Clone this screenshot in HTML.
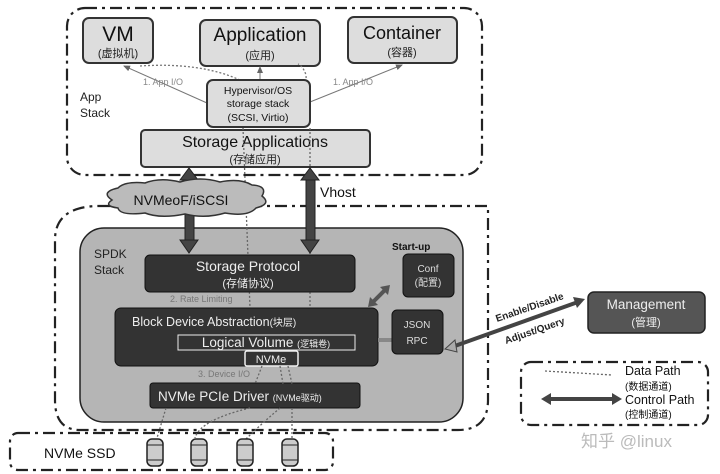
<!DOCTYPE html>
<html><head><meta charset="utf-8"><style>
html,body{margin:0;padding:0;background:#fff}
svg{display:block}
text{font-family:"Liberation Sans","Noto Sans CJK SC",sans-serif}
</style></head><body>
<svg width="720" height="474" viewBox="0 0 720 474" xmlns="http://www.w3.org/2000/svg">
<defs>
<marker id="ah" markerWidth="8" markerHeight="8" refX="6" refY="4" orient="auto"><path d="M0,1 L7,4 L0,7z" fill="#666"/></marker>
</defs>
<rect width="720" height="474" fill="#fff"/>
<rect x="67" y="8" width="415" height="167" rx="18" fill="none" stroke="#222" stroke-width="2.2" stroke-dasharray="12,5,3,5"/>
<path d="M100,206 L488,206 L488,400 Q488,430 458,430 L80,430 Q55,430 55,400 L55,240 Q55,206 100,206" fill="none" stroke="#222" stroke-width="2.2" stroke-dasharray="12,5,3,5"/>
<rect x="10" y="433" width="323" height="37" rx="8" fill="none" stroke="#222" stroke-width="2.2" stroke-dasharray="12,5,3,5"/>
<rect x="521" y="362" width="187" height="63" rx="10" fill="none" stroke="#222" stroke-width="2.2" stroke-dasharray="12,5,3,5"/>

<rect x="83" y="18" width="70" height="45" rx="6" fill="#ddd" stroke="#333" stroke-width="2"/>
<text x="118" y="41" font-size="21" text-anchor="middle" fill="#111">VM</text>
<text x="118" y="57" font-size="11" text-anchor="middle" fill="#222">(虚拟机)</text>
<rect x="200" y="20" width="120" height="46" rx="6" fill="#ddd" stroke="#333" stroke-width="2"/>
<text x="260" y="41" font-size="19" text-anchor="middle" fill="#111">Application</text>
<text x="260" y="59" font-size="11" text-anchor="middle" fill="#222">(应用)</text>
<rect x="348" y="17" width="109" height="46" rx="6" fill="#ddd" stroke="#333" stroke-width="2"/>
<text x="402" y="39" font-size="18" text-anchor="middle" fill="#111">Container</text>
<text x="402" y="56" font-size="11" text-anchor="middle" fill="#222">(容器)</text>

<text x="80" y="101" font-size="12" fill="#222">App</text>
<text x="80" y="117" font-size="12" fill="#222">Stack</text>

<line x1="207" y1="103" x2="124" y2="66" stroke="#777" stroke-width="1" marker-end="url(#ah)"/>
<line x1="260" y1="80" x2="260" y2="67" stroke="#777" stroke-width="1" marker-end="url(#ah)"/>
<line x1="310" y1="102" x2="402" y2="65" stroke="#777" stroke-width="1" marker-end="url(#ah)"/>
<text x="143" y="85" font-size="9" fill="#888">1. App I/O</text>
<text x="333" y="85" font-size="9" fill="#888">1. App I/O</text>
<path d="M240,80 Q200,62 140,66" fill="none" stroke="#777" stroke-width="1.3" stroke-dasharray="2,2"/>
<path d="M308,122 L306,75 Q303,66 298,64" fill="none" stroke="#777" stroke-width="1.3" stroke-dasharray="2,2"/>

<rect x="207" y="80" width="103" height="47" rx="6" fill="#ddd" stroke="#333" stroke-width="2"/>
<text x="258" y="94" font-size="10.5" text-anchor="middle" fill="#111">Hypervisor/OS</text>
<text x="258" y="107" font-size="10.5" text-anchor="middle" fill="#111">storage stack</text>
<text x="258" y="121" font-size="10.5" text-anchor="middle" fill="#111">(SCSI, Virtio)</text>

<rect x="141" y="130" width="229" height="37" rx="4" fill="#ddd" stroke="#333" stroke-width="2"/>
<text x="255" y="147" font-size="16" text-anchor="middle" fill="#111">Storage Applications</text>
<text x="255" y="163" font-size="11" text-anchor="middle" fill="#222">(存储应用)</text>

<rect x="80" y="228" width="383" height="194" rx="24" fill="#b5b5b5" stroke="#222" stroke-width="1.5"/>
<text x="94" y="258" font-size="12" fill="#222">SPDK</text>
<text x="94" y="274" font-size="12" fill="#222">Stack</text>

<path d="M243,128 L250,308" fill="none" stroke="#666" stroke-width="1.3" stroke-dasharray="2,2"/>
<path d="M310,128 L310,308" fill="none" stroke="#666" stroke-width="1.3" stroke-dasharray="2,2"/>

<g fill="#444" stroke="#222" stroke-width="1">
<rect x="185" y="178" width="9" height="62"/>
<path d="M180,180 L189,168 L198,180z"/>
<path d="M180,240 L189,253 L198,240z"/>
<rect x="306" y="178" width="9" height="62"/>
<path d="M301,180 L310,168 L319,180z"/>
<path d="M301,240 L310,253 L319,240z"/>
</g>
<text x="320" y="197" font-size="14" fill="#111">Vhost</text>

<path d="M112,200 Q100,192 118,188 Q125,181 145,183 Q160,177 180,182 Q200,176 220,182 Q240,178 252,185 Q268,186 262,196 Q272,204 256,208 Q248,217 225,213 Q205,219 185,214 Q160,219 145,213 Q120,216 118,208 Q103,206 112,200z" fill="#bbb" stroke="#333" stroke-width="1.5"/>
<text x="181" y="205" font-size="14" text-anchor="middle" fill="#111">NVMeoF/iSCSI</text>

<rect x="145" y="255" width="210" height="37" rx="5" fill="#333" stroke="#111"/>
<text x="248" y="271" font-size="14" text-anchor="middle" fill="#eee">Storage Protocol</text>
<text x="248" y="287" font-size="11" text-anchor="middle" fill="#eee">(存储协议)</text>
<text x="170" y="302" font-size="9" fill="#777">2. Rate Limiting</text>

<text x="392" y="250" font-size="10" font-weight="bold" fill="#111">Start-up</text>
<rect x="403" y="254" width="51" height="43" rx="5" fill="#333" stroke="#111"/>
<text x="428" y="272" font-size="10" text-anchor="middle" fill="#ddd">Conf</text>
<text x="428" y="286" font-size="10" text-anchor="middle" fill="#ddd">(配置)</text>
<path d="M372,303 L386,289" stroke="#555" stroke-width="4"/>
<path d="M368,307 L370,297 L378,305z M390,285 L380,287 L388,295z" fill="#555"/>

<rect x="115" y="308" width="263" height="58" rx="6" fill="#333" stroke="#111"/>
<text x="132" y="326" font-size="12.5" fill="#eee">Block Device Abstraction<tspan font-size="10">(块层)</tspan></text>
<rect x="178" y="335" width="177" height="15" fill="none" stroke="#eee" stroke-width="1"/>
<text x="266" y="347" font-size="13.5" text-anchor="middle" fill="#eee">Logical Volume <tspan font-size="9">(逻辑卷)</tspan></text>
<rect x="245" y="351" width="53" height="15" rx="2" fill="#333" stroke="#eee" stroke-width="1.5"/>
<text x="271" y="363" font-size="11" text-anchor="middle" fill="#eee">NVMe</text>
<text x="198" y="377" font-size="9" fill="#777">3. Device I/O</text>
<path d="M378,340 L392,340" stroke="#888" stroke-width="4"/>

<rect x="392" y="310" width="51" height="44" rx="5" fill="#333" stroke="#111"/>
<text x="417" y="328" font-size="10" text-anchor="middle" fill="#ddd">JSON</text>
<text x="417" y="344" font-size="10" text-anchor="middle" fill="#ddd">RPC</text>

<rect x="150" y="383" width="210" height="25" rx="3" fill="#333" stroke="#111"/>
<text x="158" y="401" font-size="13.5" fill="#eee">NVMe PCIe Driver <tspan font-size="9">(NVMe驱动)</tspan></text>

<g fill="none" stroke="#666" stroke-width="1.3" stroke-dasharray="2,2">
<path d="M262,366 L255,384"/><path d="M280,366 L283,384"/><path d="M288,366 L292,384"/>
<path d="M166,408 L157,438"/><path d="M250,408 Q200,420 195,438"/><path d="M280,408 Q260,425 245,440"/><path d="M292,408 L292,438"/>
</g>
<g fill="#ccc" stroke="#222" stroke-width="1.5">
<rect x="147" y="439" width="16" height="27" rx="5"/>
<rect x="191" y="439" width="16" height="27" rx="5"/>
<rect x="237" y="439" width="16" height="27" rx="5"/>
<rect x="282" y="439" width="16" height="27" rx="5"/>
</g>
<g stroke="#222" stroke-width="1"><line x1="147" y1="445" x2="163" y2="445"/><line x1="191" y1="445" x2="207" y2="445"/><line x1="237" y1="445" x2="253" y2="445"/><line x1="282" y1="445" x2="298" y2="445"/>
<line x1="147" y1="460" x2="163" y2="460"/><line x1="191" y1="460" x2="207" y2="460"/><line x1="237" y1="460" x2="253" y2="460"/><line x1="282" y1="460" x2="298" y2="460"/></g>
<text x="44" y="458" font-size="14" fill="#111">NVMe SSD</text>

<line x1="452" y1="347" x2="578" y2="302" stroke="#444" stroke-width="4"/>
<path d="M445,349 L455,340 L457,352z" fill="#aaa" stroke="#444"/>
<path d="M585,299 L573,297 L577,308z" fill="#444"/>
<text transform="translate(497,322) rotate(-19)" font-size="10" font-weight="bold" fill="#222">Enable/Disable</text>
<text transform="translate(506,344) rotate(-19)" font-size="10" font-weight="bold" fill="#222">Adjust/Query</text>
<rect x="588" y="292" width="117" height="41" rx="6" fill="#555" stroke="#222" stroke-width="1.5"/>
<text x="646" y="309" font-size="13.5" text-anchor="middle" fill="#eee">Management</text>
<text x="646" y="326" font-size="11" text-anchor="middle" fill="#eee">(管理)</text>

<path d="M545,371 L612,375" fill="none" stroke="#666" stroke-width="1.3" stroke-dasharray="2,2"/>
<text x="625" y="375" font-size="12.5" fill="#111">Data Path</text>
<text x="625" y="390" font-size="10" fill="#111">(数据通道)</text>
<line x1="548" y1="399" x2="615" y2="399" stroke="#444" stroke-width="4"/>
<path d="M541,399 L551,393 L551,405z M622,399 L612,393 L612,405z" fill="#444"/>
<text x="625" y="404" font-size="12.5" fill="#111">Control Path</text>
<text x="625" y="418" font-size="10" fill="#111">(控制通道)</text>

<text x="581" y="447" font-size="17" fill="#bbb">知乎 @linux</text>
</svg>
</body></html>
